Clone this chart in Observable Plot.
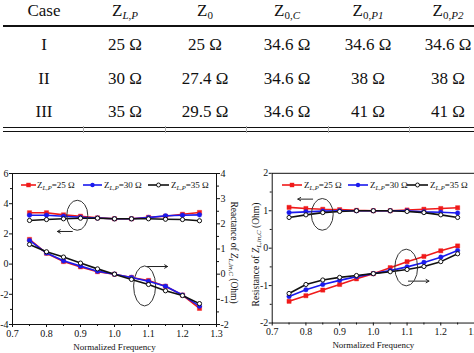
<!DOCTYPE html>
<html><head><meta charset="utf-8">
<script src="https://cdn.jsdelivr.net/npm/d3@7"></script>
<script src="https://cdn.jsdelivr.net/npm/@observablehq/plot@0.6"></script>
<style>
html,body{margin:0;padding:0;background:#fff;}
body{width:474px;height:353px;overflow:hidden;position:relative;font-family:"Liberation Serif","Times New Roman",serif;color:#111;}
.a{position:absolute;white-space:nowrap;}
.cell{font-size:17px;text-align:center;width:100px;line-height:20px;}
.cell sub{font-size:11px;vertical-align:-3px;line-height:0;}
.rule{background:#111;}
.leg{font-size:9px;line-height:10px;}
.leg sub{font-size:6.5px;vertical-align:-2px;line-height:0;font-style:italic;}
.ttl{font-size:9.5px;line-height:11px;}
.ttl sub{font-size:7px;vertical-align:-2px;line-height:0;font-style:italic;}
</style></head><body>
<script>
// ---------------- data ----------------
const tableHeader = ["Case","Z<sub><i>L,P</i></sub>","Z<sub>0</sub>","Z<sub>0,<i>C</i></sub>","Z<sub>0,<i>P1</i></sub>","Z<sub>0,<i>P2</i></sub>"];
const caseNames = ["I","II","III"];
const zLP  = ["25 Ω","30 Ω","35 Ω"];
const z0   = ["25 Ω","27.4 Ω","29.5 Ω"];
const z0C  = ["34.6 Ω","34.6 Ω","34.6 Ω"];
const z0P1 = ["34.6 Ω","38 Ω","41 Ω"];
const z0P2 = ["34.6 Ω","38 Ω","41 Ω"];

const freq = [0.75,0.80,0.85,0.90,0.95,1.00,1.05,1.10,1.15,1.20,1.25];
const seriesKeys = ["25","30","35"];
const seriesLabels = ["=25 Ω","=30 Ω","=35 Ω"];
const xTicks = [0.7,0.8,0.9,1.0,1.1,1.2,1.3];
const xMinor = [0.75,0.85,0.95,1.05,1.15,1.25];

// left chart, upper curves (left axis)
const lUp25 = [3.40,3.40,3.26,3.17,3.06,3.00,3.00,3.10,3.17,3.30,3.42];
const lUp30 = [3.24,3.24,3.17,3.10,3.05,3.00,3.00,3.08,3.20,3.24,3.26];
const lUp35 = [2.89,2.95,3.00,3.04,3.04,3.00,3.00,3.00,2.97,2.95,2.87];
// left chart, lower curves (right axis: reactance)
const lLo25 = [1.38,0.83,0.50,0.29,0.10,0.00,-0.13,-0.25,-0.48,-0.83,-1.36];
const lLo30 = [1.34,0.84,0.53,0.32,0.12,0.00,-0.13,-0.28,-0.48,-0.83,-1.27];
const lLo35 = [1.18,0.89,0.68,0.44,0.21,0.00,-0.21,-0.41,-0.66,-0.85,-1.17];
const lLeftTicks = [-4,-2,0,2,4,6];
const lLeftMinor = [-3,-1,1,3,5];
const lRightTicks = [-2,-1,0,1,2,3,4];
const lRightMinor = [-1.5,-0.5,0.5,1.5,2.5,3.5];

// right chart (resistance)
const rUp25 = [1.09,1.06,1.04,1.03,1.01,1.00,1.00,1.02,1.04,1.06,1.08];
const rUp30 = [0.95,0.97,0.99,1.00,1.00,1.00,1.00,1.00,0.97,0.96,0.94];
const rUp35 = [0.82,0.89,0.95,0.98,1.00,1.00,1.00,0.98,0.95,0.89,0.82];
const rLo25 = [-1.42,-1.27,-1.12,-0.97,-0.82,-0.68,-0.52,-0.36,-0.22,-0.07,0.06];
const rLo30 = [-1.29,-1.11,-0.97,-0.86,-0.76,-0.68,-0.60,-0.50,-0.38,-0.24,-0.06];
const rLo35 = [-1.21,-0.97,-0.85,-0.78,-0.73,-0.68,-0.63,-0.57,-0.49,-0.36,-0.15];
const rTicks = [-2,-1,0,1,2];
const rMinor = [-1.5,-0.5,0.5,1.5];

// annotations (data coordinates)
const lEllX = [0.892, 1.09], lEllY = [3.2, -1.48];
const lArrX1 = [0.876, 1.097], lArrX2 = [0.832, 1.156], lArrY = [2.16, -0.16];
const rEllX = [0.85, 1.099], rEllY = [0.89, -0.53];
const rArrX1 = [0.82, 1.104], rArrX2 = [0.776, 1.165], rArrY = [1.31, -0.88];

// ---------------- styles / layout ----------------
const RED = "#f01a1a", BLUE = "#1a1aee", BLACK = "#111";
const colorOf = {"25": RED, "30": BLUE, "35": BLACK};
const colX = [44,125,205,287,368,448];
const rowY = [11,45,79,112];
const FONT = '"Liberation Serif","Times New Roman",serif';

function add(html, cls, left, top, extra) {
  const d = document.createElement("div");
  d.className = "a " + (cls||"");
  d.innerHTML = html;
  d.style.left = left + "px"; d.style.top = top + "px";
  if (extra) Object.assign(d.style, extra);
  document.body.appendChild(d);
  return d;
}

// ---------------- table ----------------
tableHeader.forEach((h,i)=> add(h, "cell", colX[i]-50, rowY[0]-10));
const cols = [caseNames, zLP, z0, z0C, z0P1, z0P2];
for (let r = 0; r < 3; r++) cols.forEach((c,i)=> add(c[r], "cell", colX[i]-50, rowY[r+1]-10));
add("", "rule", 3, 25, {width:"471px", height:"2px"});
add("", "rule", 3, 127, {width:"471px", height:"1.3px"});
add("", "rule", 3, 130.5, {width:"471px", height:"1.3px"});
[83,165,246,328,409].forEach(x=> add("", "", x, 126, {width:"1px", height:"7px", background:"#aaa"}));

// ---------------- chart helpers ----------------
function rows(vals, key){ return freq.map((f,i)=>({f, v: vals[i], s: key})); }
function seriesMarks(arrs) {
  const marks = [];
  seriesKeys.forEach((k,i)=>{
    const d = rows(arrs[i], k);
    marks.push(Plot.line(d, {x:"f", y:"v", stroke: colorOf[k], strokeWidth: 1.6}));
    if (k === "25") marks.push(Plot.dot(d, {x:"f", y:"v", symbol:"square", r:2.4, fill: RED, stroke: RED, strokeWidth: 0.4}));
    else if (k === "30") marks.push(Plot.dot(d, {x:"f", y:"v", r:2.3, fill: BLUE, stroke: BLUE, strokeWidth: 0.4}));
    else marks.push(Plot.dot(d, {x:"f", y:"v", r:2.1, fill:"#fff", stroke: BLACK, strokeWidth: 1}));
  });
  return marks;
}
function arrows(x1, x2, y) {
  const d = x1.map((v,i)=>({x1:v, x2:x2[i], y:y[i]}));
  return Plot.arrow(d, {x1:"x1", x2:"x2", y1:"y", y2:"y", stroke:"#222", strokeWidth:1, headLength:5});
}
function scaleFn(plot, name) {
  const s = plot.scale(name);
  if (s && typeof s.apply === "function") return v => s.apply(v);
  return d3.scaleLinear(s.domain, s.range);
}
function ellipses(plot, xs, ys, rxs, rys) {
  const fx = scaleFn(plot, "x"), fy = scaleFn(plot, "y");
  const svg = d3.select(plot);
  xs.forEach((x,i)=> svg.append("ellipse")
    .attr("cx", fx(x)).attr("cy", fy(ys[i])).attr("rx", rxs[i]).attr("ry", rys[i])
    .attr("fill","none").attr("stroke","#333").attr("stroke-width",1));
}
function place(plot, left, top) {
  const w = document.createElement("div");
  w.className = "a"; w.style.left = left+"px"; w.style.top = top+"px";
  w.appendChild(plot); document.body.appendChild(w);
}
const common = {
  height: 203, marginTop: 23, marginBottom: 29,
  style: {fontFamily: FONT, fontSize: "10px", background: "transparent", color: "#111", overflow: "visible"}
};
function xAxes() {
  return [
    Plot.axisX({ticks: xTicks, tickFormat: d3.format(".1f"), tickSize: 3, tickPadding: 2, label: null}),
    Plot.axisX({ticks: xMinor, tickSize: 2, tickFormat: () => "", label: null}),
    Plot.axisX({ticks: [1.0], tickSize: 0, tickFormat: () => "", label: "Normalized Frequency", labelAnchor: "center", labelOffset: 25, labelArrow: "none", fontSize: 9})
  ];
}

// ---------------- left chart ----------------
const leftMain = Plot.plot({
  ...common, width: 240, marginLeft: 12, marginRight: 24,
  x: {domain: [0.7, 1.3], axis: null}, y: {domain: [-4, 6], axis: null},
  marks: [
    ...seriesMarks([lUp25, lUp30, lUp35]),
    Plot.frame({stroke: "#111", strokeWidth: 1}),
    ...xAxes(),
    Plot.axisY({ticks: lLeftTicks, tickSize: 3, tickPadding: 1, tickFormat: d => String(d), label: null}),
    Plot.axisY({ticks: lLeftMinor, tickSize: 2, tickFormat: () => "", label: null}),
    arrows(lArrX1, lArrX2, lArrY)
  ]
});
ellipses(leftMain, lEllX, lEllY, [10.5, 11], [15, 20]);
place(leftMain, 0, 150);

const leftOverlay = Plot.plot({
  ...common, width: 240, marginLeft: 12, marginRight: 24,
  x: {domain: [0.7, 1.3], axis: null}, y: {domain: [-2, 4], axis: null},
  marks: [
    ...seriesMarks([lLo25, lLo30, lLo35]),
    Plot.axisY({anchor: "right", ticks: lRightTicks, tickSize: 3, tickPadding: 1, tickFormat: d => String(d), label: null}),
    Plot.axisY({anchor: "right", ticks: lRightMinor, tickSize: 2, tickFormat: () => "", label: null})
  ]
});
place(leftOverlay, 0, 150);

// ---------------- right chart ----------------
const rightPlot = Plot.plot({
  ...common, width: 239, marginLeft: 35, marginRight: 0,
  x: {domain: [0.7, 1.3], axis: null}, y: {domain: [-2, 2], axis: null},
  marks: [
    ...seriesMarks([rUp25, rUp30, rUp35]),
    ...seriesMarks([rLo25, rLo30, rLo35]),
    Plot.frame({stroke: "#111", strokeWidth: 1}),
    ...xAxes(),
    Plot.axisY({ticks: rTicks, tickSize: 3, tickPadding: 1, tickFormat: d => String(d), label: null}),
    Plot.axisY({ticks: rMinor, tickSize: 2, tickFormat: () => "", label: null}),
    arrows(rArrX1, rArrX2, rArrY)
  ]
});
ellipses(rightPlot, rEllX, rEllY, [11, 11.5], [16, 18.5]);
place(rightPlot, 237, 150);

// ---------------- axis titles (rotated) ----------------
const t1 = add("Reactance of <i>Z</i><sub>L,in,C</sub> (Ohm)", "ttl", 0, 0);
const t2 = add("Resistance of <i>Z</i><sub>L,in,C</sub> (Ohm)", "ttl", 0, 0);
function centerRot(el, cx, cy, deg) {
  const w = el.offsetWidth, h = el.offsetHeight;
  el.style.left = (cx - w/2) + "px"; el.style.top = (cy - h/2) + "px";
  el.style.transform = "rotate(" + deg + "deg)";
}
centerRot(t1, 233, 252, 90);
centerRot(t2, 257, 254, -90);

// ---------------- legends ----------------
function swatch(key, w) {
  const c = colorOf[key], m = w/2;
  let mk;
  if (key === "25") mk = `<rect x="${m-2.2}" y="1.8" width="4.4" height="4.4" fill="${c}"/>`;
  else if (key === "30") mk = `<circle cx="${m}" cy="4" r="2.2" fill="${c}"/>`;
  else mk = `<circle cx="${m}" cy="4" r="2" fill="#fff" stroke="${c}" stroke-width="1"/>`;
  return `<svg width="${w}" height="8" style="display:block"><line x1="0" x2="${w}" y1="4" y2="4" stroke="${c}" stroke-width="1.6"/>${mk}</svg>`;
}
function legend(swX, swW, txtX) {
  seriesKeys.forEach((k,i)=>{
    add(swatch(k, swW[i]), "", swX[i], 181);
    add(`Z<sub>L,P</sub>${seriesLabels[i]}`, "leg", txtX[i], 180);
  });
}
legend([21, 83, 148], [15, 19, 21], [37, 104, 171]);
legend([282, 348, 407], [20, 20, 21], [304, 370, 430]);
</script>
</body></html>
